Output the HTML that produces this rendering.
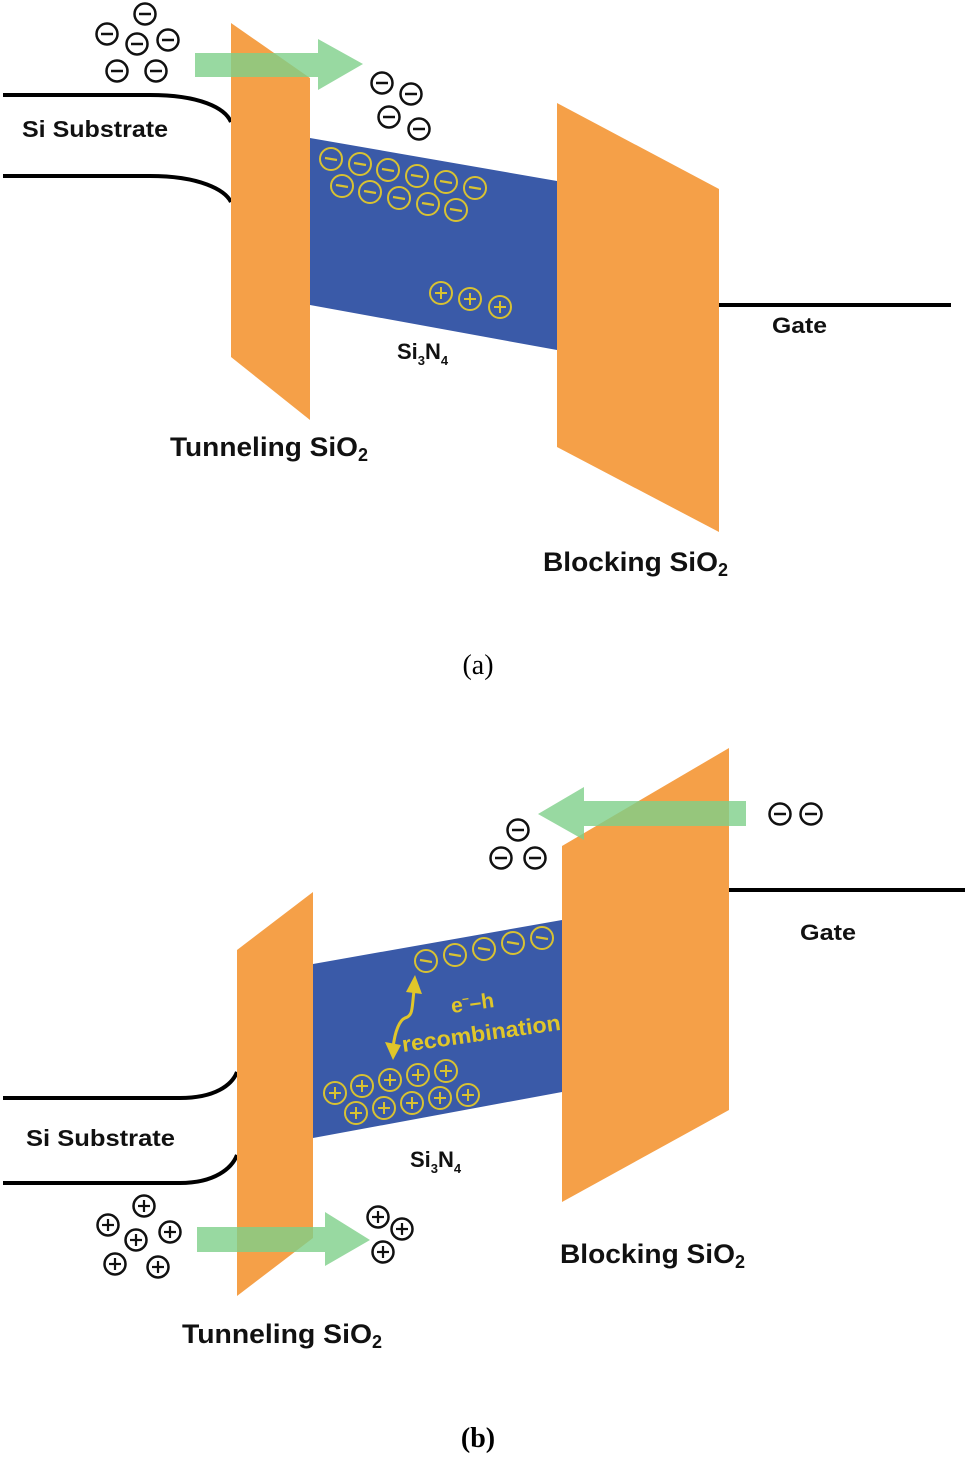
<!DOCTYPE html>
<html><head><meta charset="utf-8"><style>
html,body{margin:0;padding:0;background:#fff}
svg{display:block}
.l{font-family:"Liberation Sans",Arial,sans-serif;font-weight:bold;fill:#111}
</style></head><body>
<svg width="969" height="1457" viewBox="0 0 969 1457" xmlns="http://www.w3.org/2000/svg">
<defs>
<g id="em"><circle r="10.5" fill="none" stroke="#111" stroke-width="2.5"/><line x1="-6" y1="0" x2="6" y2="0" stroke="#111" stroke-width="2.5"/></g>
<g id="hp"><circle r="10.5" fill="none" stroke="#111" stroke-width="2.5"/><line x1="-6" y1="0" x2="6" y2="0" stroke="#111" stroke-width="2.2"/><line x1="0" y1="-6" x2="0" y2="6" stroke="#111" stroke-width="2.2"/></g>
<g id="ye"><circle r="11" fill="none" stroke="#d8c232" stroke-width="2"/><line x1="-6" y1="-1" x2="6" y2="1" stroke="#d8c232" stroke-width="2.2"/></g>
<g id="yh"><circle r="11" fill="none" stroke="#d8c232" stroke-width="2"/><line x1="-6" y1="0" x2="6" y2="0" stroke="#d8c232" stroke-width="2"/><line x1="0" y1="-6" x2="0" y2="6" stroke="#d8c232" stroke-width="2"/></g>
</defs>

<!-- (a) -->
<path d="M3,95 L150,95 C200,95 225,108 231,122" fill="none" stroke="#000" stroke-width="4"/>
<path d="M3,176 L150,176 C200,176 225,190 231,202" fill="none" stroke="#000" stroke-width="4"/>
<line x1="718" y1="305" x2="951" y2="305" stroke="#000" stroke-width="4"/>
<polygon points="310,138 557,181 557,350 310,305" fill="#3a5aa8"/>
<polygon points="231,23 310,78 310,420 231,357" fill="#f5a048"/>
<polygon points="557,103 719,189 719,532 557,447" fill="#f5a048"/>
<polygon points="195,53 318,53 318,39 363,64 318,90 318,77 195,77" fill="#7ed089" opacity="0.8"/>
<use href="#em" x="145" y="14"/><use href="#em" x="107" y="34"/><use href="#em" x="137" y="44"/><use href="#em" x="168" y="40"/><use href="#em" x="117" y="71"/><use href="#em" x="156" y="71"/>
<use href="#em" x="382" y="83"/><use href="#em" x="411" y="94"/><use href="#em" x="389" y="117"/><use href="#em" x="419" y="129"/>
<use href="#ye" x="331" y="159"/><use href="#ye" x="360" y="164"/><use href="#ye" x="388" y="170"/><use href="#ye" x="417" y="176"/><use href="#ye" x="446" y="182"/><use href="#ye" x="475" y="188"/>
<use href="#ye" x="342" y="186"/><use href="#ye" x="370" y="192"/><use href="#ye" x="399" y="198"/><use href="#ye" x="428" y="204"/><use href="#ye" x="456" y="210"/>
<use href="#yh" x="441" y="293"/><use href="#yh" x="470" y="299"/><use href="#yh" x="500" y="307"/>
<text class="l" x="22" y="137" font-size="23" textLength="146" lengthAdjust="spacingAndGlyphs">Si Substrate</text>
<text class="l" x="397" y="359" font-size="22">Si<tspan font-size="13" dy="6">3</tspan><tspan dy="-6">N</tspan><tspan font-size="13" dy="6">4</tspan></text>
<text class="l" x="772" y="333" font-size="22" textLength="55" lengthAdjust="spacingAndGlyphs">Gate</text>
<text class="l" x="170" y="456" font-size="27"><tspan textLength="188" lengthAdjust="spacingAndGlyphs">Tunneling SiO</tspan><tspan font-size="18" dy="5">2</tspan></text>
<text class="l" x="543" y="571" font-size="27"><tspan textLength="175" lengthAdjust="spacingAndGlyphs">Blocking SiO</tspan><tspan font-size="18" dy="5">2</tspan></text>
<text x="478" y="674" font-family="Liberation Serif,serif" font-size="28" text-anchor="middle">(a)</text>

<!-- (b) -->
<path d="M3,1098 L180,1098 C215,1098 232,1085 237,1072" fill="none" stroke="#000" stroke-width="4"/>
<path d="M3,1183 L180,1183 C215,1183 232,1168 237,1155" fill="none" stroke="#000" stroke-width="4"/>
<line x1="728" y1="890" x2="965" y2="890" stroke="#000" stroke-width="4"/>
<polygon points="313,964 562,920 562,1092 313,1138" fill="#3a5aa8"/>
<polygon points="237,950 313,892 313,1238 237,1296" fill="#f5a048"/>
<polygon points="562,846 729,748 729,1110 562,1202" fill="#f5a048"/>
<polygon points="746,801 584,801 584,787 538,814 584,840 584,826 746,826" fill="#7ed089" opacity="0.8"/>
<polygon points="197,1227 325,1227 325,1212 370,1240 325,1266 325,1252 197,1252" fill="#7ed089" opacity="0.8"/>
<use href="#em" x="518" y="830"/><use href="#em" x="501" y="858"/><use href="#em" x="535" y="858"/>
<use href="#em" x="780" y="814"/><use href="#em" x="811" y="814"/>
<use href="#hp" x="144" y="1206"/><use href="#hp" x="108" y="1225"/><use href="#hp" x="136" y="1240"/><use href="#hp" x="170" y="1232"/><use href="#hp" x="115" y="1264"/><use href="#hp" x="158" y="1267"/>
<use href="#hp" x="378" y="1217"/><use href="#hp" x="402" y="1229"/><use href="#hp" x="383" y="1252"/>
<use href="#ye" x="426" y="961"/><use href="#ye" x="455" y="955"/><use href="#ye" x="484" y="949"/><use href="#ye" x="513" y="943"/><use href="#ye" x="542" y="938"/>
<use href="#yh" x="335" y="1093"/><use href="#yh" x="362" y="1086"/><use href="#yh" x="390" y="1080"/><use href="#yh" x="418" y="1075"/><use href="#yh" x="446" y="1071"/>
<use href="#yh" x="356" y="1113"/><use href="#yh" x="384" y="1108"/><use href="#yh" x="412" y="1103"/><use href="#yh" x="440" y="1098"/><use href="#yh" x="468" y="1095"/>
<path d="M393,1048 C395,1030 400,1020 405,1018 C412,1016 412,1010 413,1000 L414,990" fill="none" stroke="#e0c62a" stroke-width="3"/>
<polygon points="406,992 415,975 422,994" fill="#e0c62a"/>
<polygon points="385,1042 393,1060 401,1045" fill="#e0c62a"/>
<text x="452" y="1013" font-family="Liberation Sans,sans-serif" font-weight="bold" font-size="21" fill="#e0c62a" transform="rotate(-8 452 1013)">e<tspan font-size="12" dy="-8">−</tspan><tspan dy="8">–h</tspan></text>
<text x="403" y="1052" font-family="Liberation Sans,sans-serif" font-weight="bold" font-size="22" fill="#e0c62a" transform="rotate(-8 403 1052)" textLength="160" lengthAdjust="spacingAndGlyphs">recombination</text>
<text class="l" x="26" y="1146" font-size="23" textLength="149" lengthAdjust="spacingAndGlyphs">Si Substrate</text>
<text class="l" x="410" y="1167" font-size="22">Si<tspan font-size="13" dy="6">3</tspan><tspan dy="-6">N</tspan><tspan font-size="13" dy="6">4</tspan></text>
<text class="l" x="800" y="940" font-size="22" textLength="56" lengthAdjust="spacingAndGlyphs">Gate</text>
<text class="l" x="182" y="1343" font-size="27"><tspan textLength="190" lengthAdjust="spacingAndGlyphs">Tunneling SiO</tspan><tspan font-size="18" dy="5">2</tspan></text>
<text class="l" x="560" y="1263" font-size="27"><tspan textLength="175" lengthAdjust="spacingAndGlyphs">Blocking SiO</tspan><tspan font-size="18" dy="5">2</tspan></text>
<text x="478" y="1447" font-family="Liberation Serif,serif" font-weight="bold" font-size="28" text-anchor="middle">(b)</text>
</svg>
</body></html>
